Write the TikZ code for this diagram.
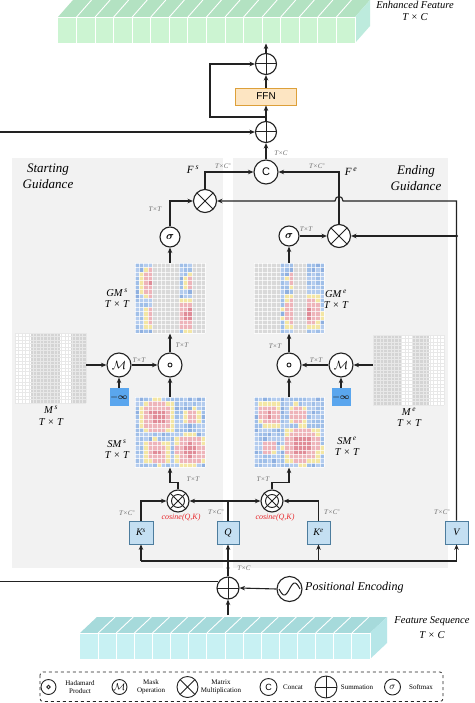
\documentclass[tikz,border=0pt]{standalone}
\usepackage{fontspec}
\usepackage{amsmath}
\setmainfont{Liberation Serif}
\newfontfamily\sansf{Liberation Sans}
\usetikzlibrary{arrows.meta,calc}
\definecolor{linec}{HTML}{222222}
\definecolor{dimc}{HTML}{6E6E6E}
\definecolor{panelc}{HTML}{F2F2F2}
\definecolor{hmblue}{HTML}{A0BFE8}
\definecolor{hmblueb}{HTML}{B4CCEE}
\definecolor{hmbluec}{HTML}{8FB0E0}
\definecolor{hmyel}{HTML}{F3E6A4}
\definecolor{hmpink}{HTML}{EEB4BA}
\definecolor{hmred}{HTML}{E08C98}
\definecolor{hmgray}{HTML}{D9D9D9}
\definecolor{mgray}{HTML}{D4D4D4}
\definecolor{kfill}{HTML}{C4DFF2}
\definecolor{kdraw}{HTML}{4D7D9E}
\definecolor{ninfc}{HTML}{5AA6EE}
\definecolor{ffnfill}{HTML}{FDE5C2}
\definecolor{ffndraw}{HTML}{DDA03A}
\definecolor{cosred}{HTML}{E8262A}
\definecolor{enhfront}{HTML}{CCF4D2}
\definecolor{enhtop}{HTML}{B3E2C2}
\definecolor{enhside}{HTML}{BDEBDD}
\definecolor{feqfront}{HTML}{C8F1F3}
\definecolor{feqtop}{HTML}{A6DADB}
\definecolor{feqside}{HTML}{B6E6E8}
\pgfmathdeclarefunction{bl}{4}{%
  \begingroup
  \pgfmathparse{#3-(0.5*sqrt((\ii-#1)*(\ii-#1)+(\jj-#2)*(\jj-#2))+0.5*max(abs(\ii-#1),abs(\jj-#2)))/#4}%
  \pgfmathsmuggle\pgfmathresult
  \endgroup}
\newcommand\heatmap[5]{%
  \pgfmathsetseed{#5}%
  \foreach \jj in {0,...,15}{%
    \foreach \ii in {0,...,15}{%
      \pgfmathsetmacro\vv{#3+0.05*(rnd-0.5)}%
      \pgfmathsetmacro\kp{#4}%
      \pgfmathsetmacro\rr{rnd}%
      \pgfmathtruncatemacro\cc{\kp<0.5 ? 0 : (\vv>0.7 ? 4 : (\vv>0.38 ? 3 : (\vv>0.25 ? 2 : (\rr>0.6 ? 1 : (\rr>0.15 ? 5 : 6)))))}%
      \ifcase\cc\relax \def\hcol{hmgray}\or\def\hcol{hmblue}\or\def\hcol{hmyel}\or\def\hcol{hmpink}\or\def\hcol{hmred}\or\def\hcol{hmblueb}\or\def\hcol{hmbluec}\fi
      \fill[\hcol] ({#1+\ii*4.4},{#2+\jj*4.4}) rectangle ++(4.4,4.4);
    }%
  }%
  \foreach \kk in {0,...,16}{%
    \draw[white, opacity=0.7, line width=0.3pt] ({#1+\kk*4.4},#2) -- ++(0,70.4);
    \draw[white, opacity=0.7, line width=0.3pt] (#1,{#2+\kk*4.4}) -- ++(70.4,0);
  }%
}
% slab: x0, yfront, cellw, height, dx, dy, front, top, side
\newcommand\slab[9]{%
  \fill[#7] (#1,#2) rectangle ({#1+16*#3},{#2+#4});
  \fill[#8] (#1,#2) -- ({#1+#5},{#2-#6}) -- ({#1+16*#3+#5},{#2-#6}) -- ({#1+16*#3},#2) -- cycle;
  \fill[#9] ({#1+16*#3},#2) -- ({#1+16*#3+#5},{#2-#6}) -- ({#1+16*#3+#5},{#2+#4-#6}) -- ({#1+16*#3},{#2+#4}) -- cycle;
  \foreach \kk in {1,...,15}{%
    \draw[white, line width=0.9pt] ({#1+\kk*#3},#2) -- ++(0,#4);
    \draw[white, line width=0.9pt] ({#1+\kk*#3},#2) -- ++(#5,-#6);
  }%
  \draw[white, line width=0.9pt] (#1,#2) -- ({#1+16*#3},#2) -- ({#1+16*#3},{#2+#4});
}
\begin{document}
\begin{tikzpicture}[x=1pt,y=-1pt,
  line/.style={draw=linec, line width=1.1pt},
  arr/.style={line, -{Stealth[length=5.5pt,width=4.5pt]}},
  op/.style={circle, draw=linec, line width=1.1pt, fill=white, inner sep=0pt},
  plusop/.style={op, minimum size=21pt, path picture={\draw[linec,line width=1pt] (path picture bounding box.north) -- (path picture bounding box.south) (path picture bounding box.west) -- (path picture bounding box.east);}},
  timesop/.style={op, minimum size=23pt, path picture={\draw[linec,line width=1pt] (path picture bounding box.north west) -- (path picture bounding box.south east) (path picture bounding box.south west) -- (path picture bounding box.north east);}},
  cosop/.style={op, minimum size=22pt, path picture={\draw[linec,line width=1pt] (path picture bounding box.north west) -- (path picture bounding box.south east) (path picture bounding box.south west) -- (path picture bounding box.north east); \draw[linec,line width=0.9pt] (path picture bounding box.center) circle (6.5pt);}},
  dotop/.style={op, minimum size=24pt, path picture={\draw[linec,line width=0.9pt] (path picture bounding box.center) circle (2pt);}},
  maskop/.style={op, minimum size=24pt, font=\fontsize{13}{13}\selectfont},
  sigop/.style={op, minimum size=20pt, font=\fontsize{11}{11}\selectfont},
  catop/.style={op, minimum size=24pt, font=\sansf\fontsize{11}{11}\selectfont},
  kbox/.style={rectangle, draw=kdraw, fill=kfill, line width=0.8pt, minimum width=23pt, minimum height=23pt, inner sep=0pt, font=\fontsize{10}{10}\selectfont\itshape},
  ninf/.style={rectangle, fill=ninfc, minimum width=19pt, minimum height=18pt, inner sep=0pt, font=\fontsize{8}{8}\selectfont, text=linec},
  dimlbl/.style={text=dimc, font=\fontsize{7}{8}\selectfont\itshape, inner sep=0pt},
  mlbl/.style={font=\fontsize{10.5}{11.5}\selectfont\itshape, inner sep=0pt, align=center},
  glbl/.style={font=\fontsize{13}{16}\selectfont\itshape, inner sep=0pt, align=center},
  coslbl/.style={text=cosred, font=\fontsize{8}{8}\selectfont\itshape, inner sep=0pt},
  leg/.style={font=\fontsize{7}{7.5}\selectfont, inner sep=0pt, align=center},
  legop/.style={circle, draw=linec, line width=0.9pt, fill=white, inner sep=0pt},
  dot/.style={circle, fill=linec, inner sep=0pt, minimum size=3.4pt}
]
\useasboundingbox (0,0) rectangle (474,703);
\fill[white] (0,0) rectangle (474,703);

% ---------- panels ----------
\fill[panelc] (12,158) rectangle (223,568);
\fill[panelc] (233,158) rectangle (448,568);
\node[glbl] (startlbl) at (48,176.5) {Starting\\Guidance};
\node[glbl] (endlbl) at (416,178) {Ending\\Guidance};

% ---------- slabs ----------
\slab{58}{17}{18.5625}{26}{15}{17}{enhfront}{enhtop}{enhside}
\node[font=\fontsize{10.5}{12}\selectfont\itshape, align=center, inner sep=0pt] (enhlbl) at (415,11) {Enhanced Feature\\T × C};
\slab{80}{633}{18.125}{26}{17}{16}{feqfront}{feqtop}{feqside}
\node[font=\fontsize{10.5}{15}\selectfont\itshape, align=center, inner sep=0pt] (feqlbl) at (432,628) {Feature Sequence\\T × C};
\coordinate (enhB) at (266,43.5);
\coordinate (featT) at (228,615);

% ---------- heatmaps ----------
\heatmap{134.8}{263}{max(bl(4.5,4,1,5.3),bl(12.5,4,0.75,4),bl(4.5,12,0.8,5.5),bl(12,11.5,1,5))}{((\ii<4) || ((\ii>9) && (\ii<13))) ? 1 : 0}{11}
\heatmap{253.8}{263}{max(bl(3,3.5,0.85,4.8),bl(9.5,3.5,0.7,5.5),bl(3,11,0.65,4.5),bl(10.5,10.5,1,6))}{(((\ii>5) && (\ii<9)) || (\ii>11)) ? 1 : 0}{12}
\heatmap{134.8}{397}{max(bl(4.5,4,1,5.3),bl(12.5,4,0.75,4),bl(4.5,12,0.8,5.5),bl(12,11.5,1,5))}{1}{13}
\heatmap{253.8}{397}{max(bl(3,3.5,0.85,4.8),bl(9.5,3.5,0.7,5.5),bl(3,11,0.65,4.5),bl(10.5,10.5,1,6))}{1}{14}
\node[inner sep=0pt, minimum width=70.4pt, minimum height=70.4pt] (gmS) at (170,298.2) {};
\node[inner sep=0pt, minimum width=70.4pt, minimum height=70.4pt] (gmE) at (289,298.2) {};
\node[inner sep=0pt, minimum width=70.4pt, minimum height=70.4pt] (smS) at (170,432.2) {};
\node[inner sep=0pt, minimum width=70.4pt, minimum height=70.4pt] (smE) at (289,432.2) {};
\node[mlbl] (gmSl) at (117,298.5) {GM\,\textsuperscript{s}\\T × T};
\node[mlbl] (gmEl) at (336,299.5) {GM\,\textsuperscript{e}\\T × T};
\node[mlbl] (smSl) at (117,449.5) {SM\,\textsuperscript{s}\\T × T};
\node[mlbl] (smEl) at (347,446.5) {SM\,\textsuperscript{e}\\T × T};

% ---------- mask matrices ----------
\fill[white] (15,333) rectangle (86,403);
\fill[mgray] (31,333) rectangle (60,403);
\fill[mgray] (71,333) rectangle (86,403);
\foreach \kk in {0,...,20}{%
  \draw[gray!18, line width=0.4pt] ({15+\kk*3.55},333) -- ++(0,70);
  \draw[gray!18, line width=0.4pt] (15,{333+\kk*3.5}) -- ++(71,0);
}
\node[inner sep=0pt, minimum width=71pt, minimum height=70pt] (mS) at (50.5,368) {};
\node[mlbl] (mSl) at (51,416) {M\,\textsuperscript{s}\\T × T};
\fill[white] (373,335) rectangle (444,405);
\fill[mgray] (373,335) rectangle (401,405);
\fill[mgray] (412,335) rectangle (429,405);
\foreach \kk in {0,...,20}{%
  \draw[gray!18, line width=0.4pt] ({373+\kk*3.55},335) -- ++(0,70);
  \draw[gray!18, line width=0.4pt] (373,{335+\kk*3.5}) -- ++(71,0);
}
\node[inner sep=0pt, minimum width=71pt, minimum height=70pt] (mE) at (408.5,370) {};
\node[mlbl] (mEl) at (409,417.5) {M\,\textsuperscript{e}\\T × T};

% ---------- operators ----------
\node[plusop] (sumTop) at (266,64) {};
\node[rectangle, draw=ffndraw, fill=ffnfill, line width=0.9pt, minimum width=61pt, minimum height=17pt, inner sep=0pt, font=\sansf\fontsize{10}{10}\selectfont] (ffn) at (266,96.5) {FFN};
\node[plusop] (sumMid) at (266,132) {};
\node[catop] (cat) at (266,172) {C};
\node[timesop] (mulS) at (205,201) {};
\node[timesop] (mulE) at (339,236) {};
\node[sigop] (sigS) at (170,237) {$\boldsymbol{\sigma}$};
\node[sigop] (sigE) at (289,236) {$\boldsymbol{\sigma}$};
\node[dotop] (dotS) at (170,365) {};
\node[dotop] (dotE) at (289,365) {};
\node[maskop] (mskS) at (119,365) {$\mathcal{M}$};
\node[maskop] (mskE) at (341,365) {$\mathcal{M}$};
\node[ninf] (ninfS) at (119,397) {$\boldsymbol{-\infty}$};
\node[ninf] (ninfE) at (341,397) {$\boldsymbol{-\infty}$};
\node[cosop] (cosS) at (178,501) {};
\node[cosop] (cosE) at (272,501) {};
\node[kbox, minimum width=24pt] (Ks) at (141,532.5) {K\textsuperscript{s}};
\node[kbox, minimum width=22pt] (Q) at (228,532.5) {Q};
\node[kbox] (Ke) at (318.5,532.5) {K\textsuperscript{e}};
\node[kbox] (V) at (456.5,532.5) {V};
\node[plusop, minimum size=22pt] (sumBot) at (228,588) {};
\node[op, minimum size=25pt] (pe) at (289.5,589) {};
\draw[linec, line width=1pt] plot[domain=-1:1, samples=40] ({289.5+10.5*\x},{589-6*sin(180*\x)});
\node[font=\fontsize{12}{12}\selectfont\itshape, anchor=west, inner sep=0pt] (pelbl) at (305,587.5) {Positional Encoding};

% ---------- top connections ----------
\draw[arr] (sumTop.north) -- (enhB);
\draw[arr] (ffn.north) -- (sumTop.south);
\draw[arr] (sumMid.north) -- (ffn.south);
\coordinate (skipA) at (266,117);
\draw[arr] (skipA) -- (210,117) |- (sumTop.west);
\coordinate (resTop) at (0,132);
\draw[arr] (resTop) -- (sumMid.west);
\draw[arr] (cat.north) -- (sumMid.south);
\node[dimlbl] (lTC1) at (281,153) {T×C};
\draw[arr] (mulS.north) |- (cat.west);
\draw[arr] (mulE.north) |- (cat.east);
\node[dimlbl] (lTC2) at (223,166) {T×C'};
\node[dimlbl] (lTC3) at (317,166) {T×C'};
\node[font=\fontsize{11}{11}\selectfont\itshape, inner sep=0pt] (Fs) at (193,170) {F\,\textsuperscript{s}};
\node[font=\fontsize{11}{11}\selectfont\itshape, inner sep=0pt] (Fe) at (351,172) {F\,\textsuperscript{e}};

% ---------- guidance flows ----------
\draw[arr] (sigS.north) |- (mulS.west);
\node[dimlbl] (lTT1) at (155,209) {T×T};
\draw[arr] (sigE.east) -- (mulE.west);
\node[dimlbl] (lTT2) at (306,229) {T×T};
\draw[arr] (gmS.north) -- (sigS.south);
\draw[arr] (gmE.north) -- (sigE.south);
\draw[arr] (dotS.north) -- (gmS.south);
\draw[arr] (dotE.north) -- (gmE.south);
\node[dimlbl] (lTT3) at (182,345) {T×T};
\node[dimlbl] (lTT4) at (275,346) {T×T};
\draw[arr] (smS.north) -- (dotS.south);
\draw[arr] (smE.north) -- (dotE.south);
\draw[arr] (mS.east |- mskS) -- (mskS.west);
\draw[arr] (mskS.east) -- (dotS.west);
\node[dimlbl] (lTT5) at (139,360) {T×T};
\draw[arr] (ninfS.north) -- (mskS.south);
\draw[arr] (mE.west |- mskE) -- (mskE.east);
\draw[arr] (mskE.west) -- (dotE.east);
\node[dimlbl] (lTT6) at (316,360) {T×T};
\draw[arr] (ninfE.north) -- (mskE.south);

% V path with hop
\coordinate (vTop) at (456.5,201);
\coordinate (vMid) at (456.5,236);
\draw[arr] (V.north) -- (vTop) -- (343,201) .. controls (343,195) and (335,195) .. (335,201) -- (mulS.east);
\draw[arr] (vMid) -- (mulE.east);
\node[dot] (vdot) at (vMid) {};

% cosine block
\draw[arr] (cosS.north) -- ++(0,-7) -| (smS.south);
\draw[arr] (cosE.north) -- ++(0,-7) -| (smE.south);
\node[dimlbl] (lTT7) at (193,479) {T×T};
\node[dimlbl] (lTT8) at (263,479) {T×T};
\coordinate (jq) at (Q.north |- cosS);
\draw[line] (Q.north) -- (jq);
\draw[arr] (jq) -- (cosS.east);
\draw[arr] (jq) -- (cosE.west);
\draw[arr] (Ks.north) |- (cosS.west);
\draw[arr] (Ke.north) |- (cosE.east);
\node[coslbl] (cl1) at (181,517.5) {cosine(Q,K)};
\node[coslbl] (cl2) at (275,517.5) {cosine(Q,K)};
\node[dimlbl] (lTC4) at (127,513) {T×C'};
\node[dimlbl] (lTC5) at (216,512) {T×C'};
\node[dimlbl] (lTC6) at (332,512) {T×C'};
\node[dimlbl] (lTC7) at (442,512) {T×C'};

% input spine
\coordinate (split) at (228,561);
\coordinate (split2) at (228,568);
\draw[arr] (sumBot.north) -- (Q.south);
\draw[line] (Ks.south |- split) -- (V.south |- split);
\draw[arr] (Ks.south |- split) -- (Ks.south);
\draw[arr] (Ke.south |- split) -- (Ke.south);
\draw[arr] (V.south |- split) -- (V.south);
\node[dot] (d1) at (split) {};
\node[dot] (d2) at (split2) {};
\node[dimlbl] (lTC8) at (244,568.5) {T×C};
\draw[arr] (featT) -- (sumBot.south);
\draw[arr] (pe.west) -- (sumBot.east);
\coordinate (resBot) at (0,582);
\draw[line] (sumBot.147) -- (sumBot.147 -| resBot);

% ---------- legend ----------
\draw[linec, line width=0.8pt, dashed, rounded corners=3pt] (40,672) rectangle (443,701.5);
\node[legop, minimum size=15pt] (lg1) at (48.5,687) {};
\draw[linec, line width=0.8pt] (lg1.center) circle (1.8pt);
\node[leg] (lg1t) at (80,687) {Hadamard\\Product};
\node[legop, minimum size=15pt, font=\fontsize{10}{10}\selectfont] (lg2) at (119.5,687) {$\mathcal{M}$};
\node[leg] (lg2t) at (151,687) {Mask\\Operation};
\node[legop, minimum size=21pt, path picture={\draw[linec,line width=0.9pt] (path picture bounding box.north west) -- (path picture bounding box.south east) (path picture bounding box.south west) -- (path picture bounding box.north east);}] (lg3) at (187.5,687) {};
\node[leg] (lg3t) at (221,687) {Matrix\\Multiplication};
\node[legop, minimum size=17pt, font=\sansf\fontsize{9}{9}\selectfont] (lg4) at (268.5,687) {C};
\node[leg] (lg4t) at (293,687) {Concat};
\node[legop, minimum size=22pt, path picture={\draw[linec,line width=0.9pt] (path picture bounding box.north) -- (path picture bounding box.south) (path picture bounding box.west) -- (path picture bounding box.east);}] (lg5) at (326,687) {};
\node[leg] (lg5t) at (357,687) {Summation};
\node[legop, minimum size=16pt, font=\fontsize{10}{10}\selectfont] (lg6) at (392.5,687) {$\sigma$};
\node[leg] (lg6t) at (421,687) {Softmax};
\end{tikzpicture}
\end{document}
